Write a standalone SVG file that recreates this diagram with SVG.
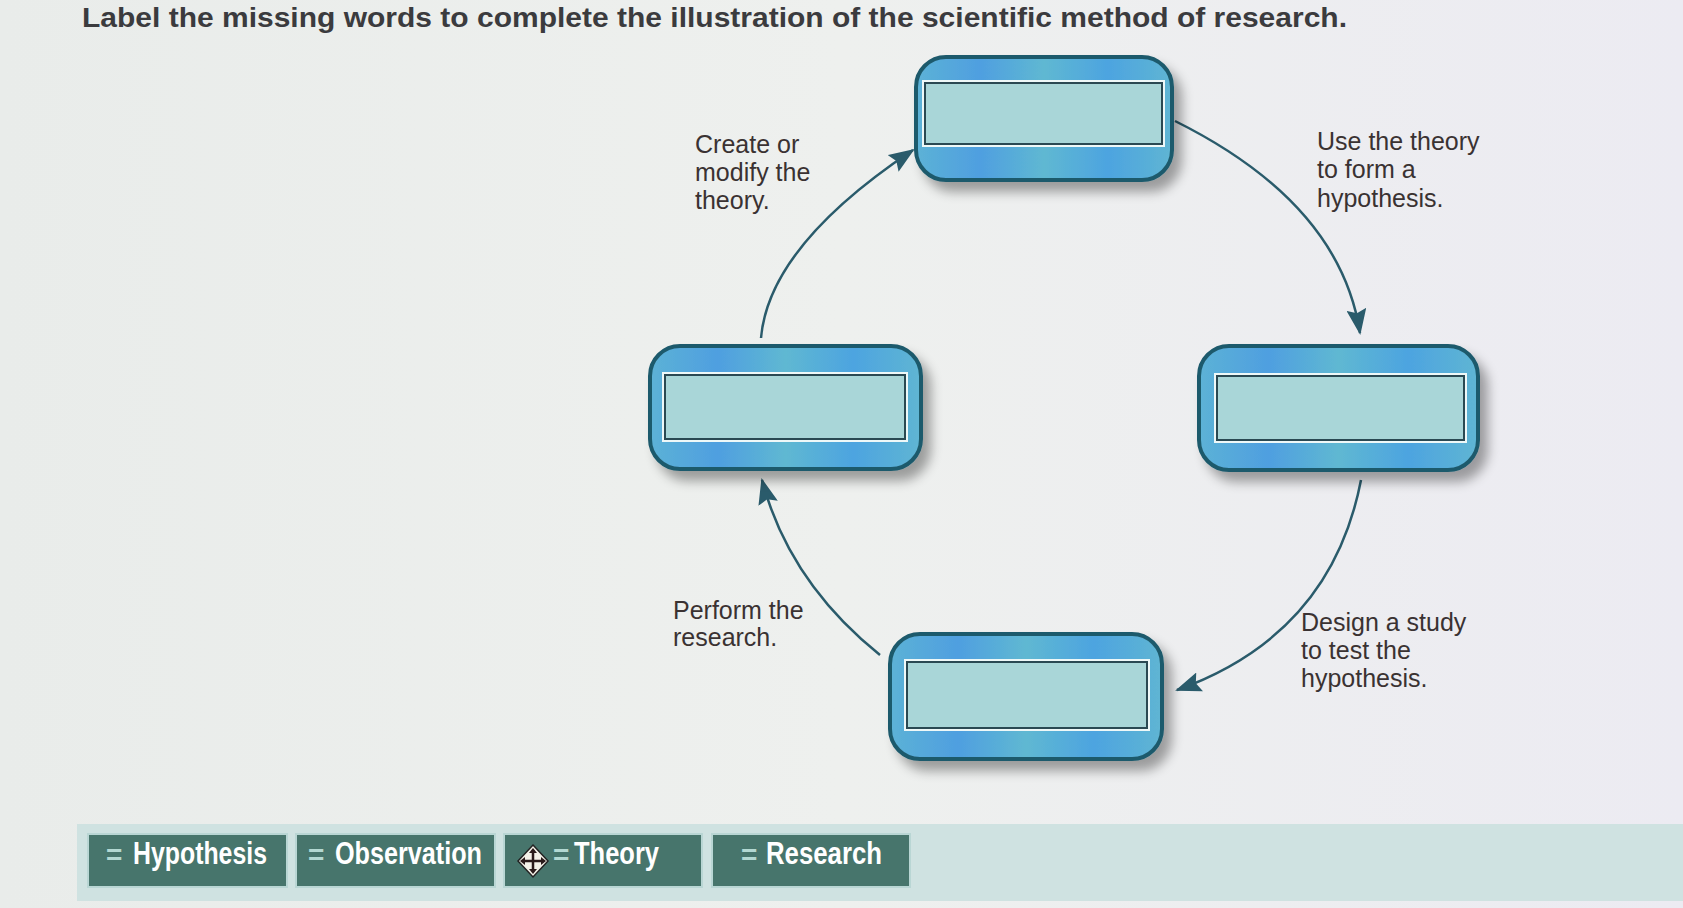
<svg xmlns="http://www.w3.org/2000/svg" width="1683" height="908" viewBox="0 0 1683 908">
<style>
.title{font-family:"Liberation Sans",Arial,sans-serif;font-weight:bold;font-size:28px;fill:#3b3b3e}
.lbl{font-family:"Liberation Sans",Arial,sans-serif;font-size:25px;fill:#3a3232}
.outer{fill:url(#nodeGrad);stroke:#1f5a6c;stroke-width:4}
.inner{fill:#a9d6d8;stroke:#2b4a52;stroke-width:2}
.innerHalo{fill:none;stroke:#eef8f8;stroke-width:6}
.conn{fill:none;stroke:#2a5b6b;stroke-width:2.5}
.btn{fill:#47756c;stroke:#b9d6d4;stroke-width:2}
.btxt{font-family:"Liberation Sans",Arial,sans-serif;font-size:31px;font-weight:bold;fill:#ffffff}
.grip{fill:#b3d8d2;font-weight:bold}
</style>
<defs>
<linearGradient id="nodeGrad" x1="0" y1="0" x2="1" y2="0">
<stop offset="0" stop-color="#5cb2d6"/>
<stop offset="0.25" stop-color="#4f9fe0"/>
<stop offset="0.5" stop-color="#5fb8d2"/>
<stop offset="0.75" stop-color="#4da4e0"/>
<stop offset="1" stop-color="#5fb5d3"/>
</linearGradient>
<linearGradient id="bg" x1="0" y1="0" x2="1" y2="0">
<stop offset="0" stop-color="#e9ecea"/>
<stop offset="0.5" stop-color="#eef0ee"/>
<stop offset="1" stop-color="#ecebf2"/>
</linearGradient>
<filter id="sh" x="-10%" y="-10%" width="130%" height="140%">
<feGaussianBlur in="SourceAlpha" stdDeviation="6"/>
<feOffset dx="8" dy="10" result="b"/>
<feComponentTransfer><feFuncA type="linear" slope="0.35"/></feComponentTransfer>
<feMerge><feMergeNode/><feMergeNode in="SourceGraphic"/></feMerge>
</filter>
<marker id="arr" markerUnits="userSpaceOnUse" markerWidth="26" markerHeight="20" refX="24" refY="10" orient="auto">
<path d="M0,0 L26,10 L0,20 L4,10 z" fill="#2a5b6b"/>
</marker>
</defs>
<rect width="1683" height="908" fill="url(#bg)"/>
<text class="title" x="82" y="27" textLength="1265" lengthAdjust="spacingAndGlyphs">Label the missing words to complete the illustration of the scientific method of research.</text>

<g id="connectors">
<path class="conn" d="M1175,121 Q1340,203 1360,333" marker-end="url(#arr)"/>
<path class="conn" d="M1361,480 Q1331,635 1177,690" marker-end="url(#arr)"/>
<path class="conn" d="M880,655 Q789,582 762,480" marker-end="url(#arr)"/>
<path class="conn" d="M761,338 Q769,246 913,150" marker-end="url(#arr)"/>
</g>

<g id="node-top" filter="url(#sh)">
<rect class="outer" x="916" y="57" width="256" height="123" rx="30"/>
<rect class="innerHalo" x="925" y="83" width="237" height="61"/>
<rect class="inner" x="925" y="83" width="237" height="61"/>
</g>
<g id="node-left" filter="url(#sh)">
<rect class="outer" x="650" y="346" width="271" height="123" rx="30"/>
<rect class="innerHalo" x="665" y="375" width="240" height="64"/>
<rect class="inner" x="665" y="375" width="240" height="64"/>
</g>
<g id="node-right" filter="url(#sh)">
<rect class="outer" x="1199" y="346" width="279" height="124" rx="30"/>
<rect class="innerHalo" x="1217" y="376" width="247" height="64"/>
<rect class="inner" x="1217" y="376" width="247" height="64"/>
</g>
<g id="node-bottom" filter="url(#sh)">
<rect class="outer" x="890" y="634" width="272" height="125" rx="30"/>
<rect class="innerHalo" x="907" y="662" width="240" height="66"/>
<rect class="inner" x="907" y="662" width="240" height="66"/>
</g>

<g id="label-create">
<text class="lbl" x="695" y="153">Create or</text>
<text class="lbl" x="695" y="181">modify the</text>
<text class="lbl" x="695" y="209">theory.</text>
</g>
<g id="label-use">
<text class="lbl" x="1317" y="150">Use the theory</text>
<text class="lbl" x="1317" y="178">to form a</text>
<text class="lbl" x="1317" y="207">hypothesis.</text>
</g>
<g id="label-perform">
<text class="lbl" x="673" y="619">Perform the</text>
<text class="lbl" x="673" y="646">research.</text>
</g>
<g id="label-design">
<text class="lbl" x="1301" y="631">Design a study</text>
<text class="lbl" x="1301" y="659">to test the</text>
<text class="lbl" x="1301" y="687">hypothesis.</text>
</g>

<g id="word-bank">
<rect x="77" y="824" width="1606" height="77" fill="#cfe2e1"/>
<g id="btn-hypothesis">
<rect class="btn" x="88" y="834" width="199" height="53"/>
<text class="btxt" x="106" y="864"><tspan class="grip" font-size="28">=</tspan><tspan x="133" textLength="134" lengthAdjust="spacingAndGlyphs">Hypothesis</tspan></text>
</g>
<g id="btn-observation">
<rect class="btn" x="296" y="834" width="199" height="53"/>
<text class="btxt" x="308" y="864"><tspan class="grip" font-size="28">=</tspan><tspan x="335" textLength="147" lengthAdjust="spacingAndGlyphs">Observation</tspan></text>
</g>
<g id="btn-theory">
<rect class="btn" x="504" y="834" width="198" height="53"/>
<text class="btxt" x="553" y="864"><tspan class="grip" font-size="28" fill="#6cc8d0">=</tspan><tspan x="574" textLength="85" lengthAdjust="spacingAndGlyphs">Theory</tspan></text>
<g id="move-cursor">
<path d="M533,845 L548,861 L533,877 L518,861 z" fill="#f4f1e8" stroke="#222" stroke-width="1.5"/>
<path d="M533,850 L533,872 M523,861 L543,861" stroke="#2a1a1a" stroke-width="2.5"/>
<path d="M533,848 L529,853 L537,853 z M533,874 L529,869 L537,869 z M520,861 L525,857 L525,865 z M546,861 L541,857 L541,865 z" fill="#2a1a1a"/>
</g>
</g>
<g id="btn-research">
<rect class="btn" x="712" y="834" width="198" height="53"/>
<text class="btxt" x="741" y="864"><tspan class="grip" font-size="28">=</tspan><tspan x="766" textLength="116" lengthAdjust="spacingAndGlyphs">Research</tspan></text>
</g>
</g>
</svg>
